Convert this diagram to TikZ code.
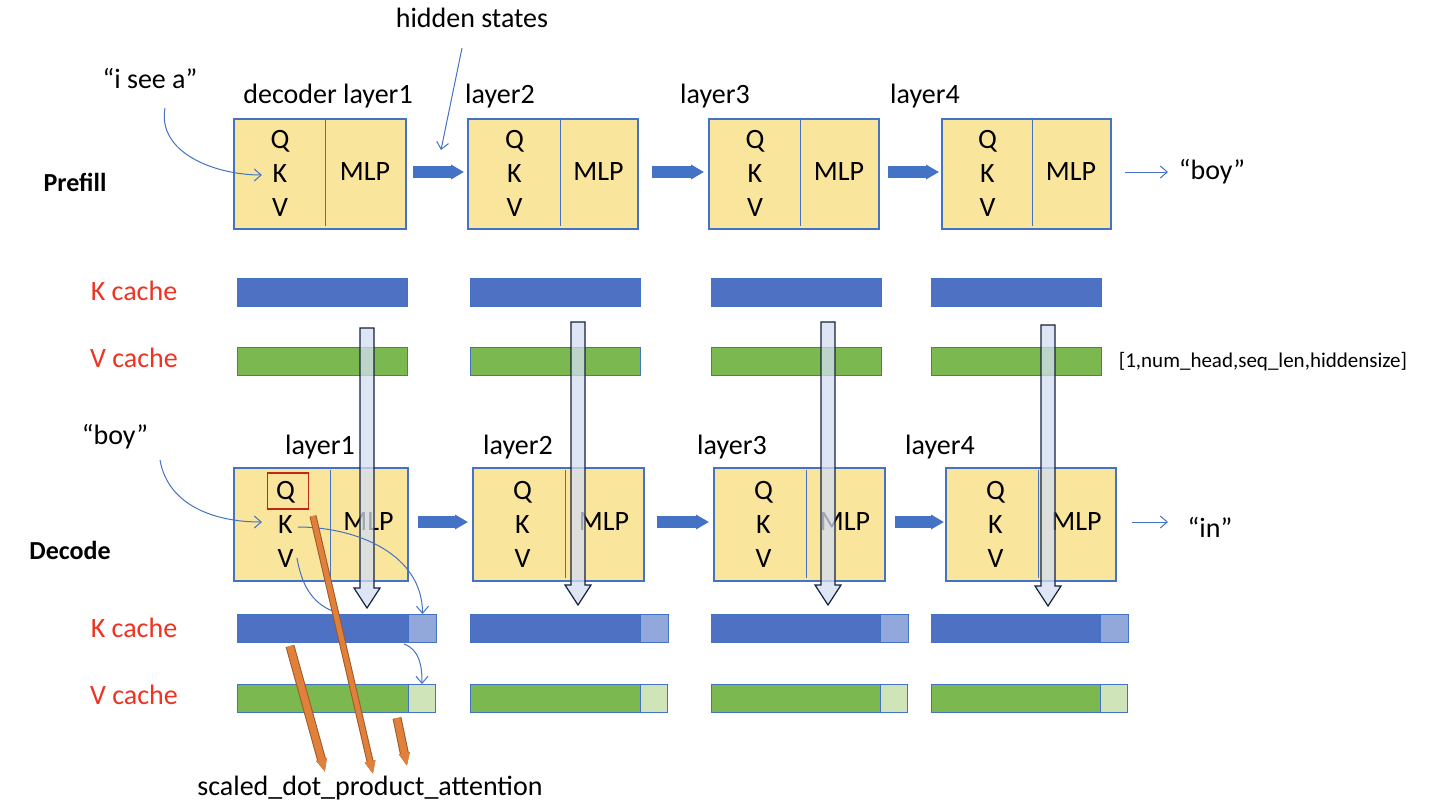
\documentclass[tikz,border=0pt]{standalone}
\usepackage{fontspec}
\setmainfont{Carlito}
\usetikzlibrary{arrows.meta}
\definecolor{boxy}{HTML}{FAE59D}
\definecolor{boxb}{HTML}{4472C4}
\definecolor{kb}{HTML}{4F71C4}
\definecolor{vg}{HTML}{7CB850}
\definecolor{kl}{HTML}{93A8DA}
\definecolor{vl}{HTML}{CFE4B8}
\definecolor{ora}{HTML}{E0803A}
\definecolor{lbl}{HTML}{D3DEF2}
\definecolor{rd}{HTML}{EE3322}
\tikzset{
 lay/.style={draw=boxb,fill=boxy,line width=1.5pt,minimum height=#1,anchor=north west,inner sep=0pt},
 bar/.style={draw=boxb,line width=1pt,anchor=north west,inner sep=0pt},
 txt/.style={font=\fontsize{28}{30}\selectfont},
 qkv/.style={align=center,font=\fontsize{28}{34}\selectfont},
 cl/.style={txt,text=rd},
 thin/.style={draw=boxb,line width=1pt,-{Straight Barb[length=7pt,width=12pt]}},
 blk/.style={draw=boxb,line width=12pt,-{Triangle[length=13pt,width=14pt]}},
 oar/.style={draw=ora,line width=7pt,-{Triangle[length=13pt,width=10pt]}}
}
\newcommand{\vbar}[3]{\filldraw[fill=lbl,fill opacity=0.75,draw=black!70!boxb,line width=1.2pt]
 ({#1-7},-#2) -- ({#1+7},-#2) -- ({#1+7},{-#3+20}) -- ({#1+13},{-#3+20}) -- (#1,-#3) -- ({#1-13},{-#3+20}) -- ({#1-7},{-#3+20}) -- cycle;}
\begin{document}
\begin{tikzpicture}[x=1pt,y=1pt]
\useasboundingbox (0,0) rectangle (1440,-807);
\fill[white] (0,0) rectangle (1440,-807);
% prefill
\node[txt,font=\bfseries\fontsize{26}{28}\selectfont] (pf) at (75,-182) {Prefill};
\node[txt] (isee) at (150,-78) {“i see a”};
\foreach \n/\x/\d/\w in {1/233/92/172,2/467/93/170,3/708/92/170,4/941/91/169}{
 \node[lay=110pt,minimum width=\w pt] (p\n) at (\x,-118) {};
 \draw[boxb,line width=1pt] ({\x+\d},-120) -- ({\x+\d},-226);
 \node[qkv] (pq\n) at ({\x+\d/2+1},-173) {Q\\K\\V};
 \node[txt] (pm\n) at ({\x+\d/2+\w/2},-172) {MLP};
}
\node[txt] (pl1) at (328,-96) {decoder layer1};
\node[txt] (pl2) at (500,-96) {layer2};
\node[txt] (pl3) at (715,-96) {layer3};
\node[txt] (pl4) at (925,-96) {layer4};
\draw[blk] (413,-172) -- (464,-172);
\draw[blk] (652,-172) -- (704,-172);
\draw[blk] (888,-172) -- (939,-172);
\node[txt] (pboy) at (1212,-172) {“boy”};
\draw[thin] (1125,-172) -- (1168,-172);
\draw[thin] (165,-108) to[out=-100,in=180] (262,-175);
\node[txt] (hs) at (472,-18) {hidden states};
\draw[thin] (462,-48) -- (441,-150);
% caches prefill
\node[cl] (kc1) at (134,-291) {K cache};
\node[cl] (vc1) at (134,-358) {V cache};
\foreach \n/\x in {1/237,2/470,3/711,4/931}{
 \node[bar,fill=kb,minimum width=170pt,minimum height=28pt] (pk\n) at (\x,-278) {};
 \node[bar,fill=vg,minimum width=170pt,minimum height=28pt] (pv\n) at (\x,-347) {};
}
\node[font=\fontsize{21}{23}\selectfont] (shape) at (1263,-362) {[1,num\_head,seq\_len,hiddensize]};
% decode
\node[txt,font=\bfseries\fontsize{26}{28}\selectfont] (dc) at (70,-550) {Decode};
\node[txt] (dboy) at (115,-437) {“boy”};
\foreach \n/\x/\d/\w in {1/233/97/174,2/472/93/171,3/713/93/171,4/945/93/170}{
 \node[lay=113pt,minimum width=\w pt] (d\n) at (\x,-467) {};
 \draw[boxb,line width=1pt] ({\x+\d},-470) -- ({\x+\d},-578);
 \node[qkv] (dq\n) at ({\x+\d/2+4},-524) {Q\\K\\V};
 \node[txt] (dm\n) at ({\x+\d/2+\w/2},-522) {MLP};
}
\node[draw=rd!80!black,line width=1.5pt,minimum width=41pt,minimum height=36pt] (qbox) at (288,-491) {};
\node[txt] (dl1) at (320,-447) {layer1};
\node[txt] (dl2) at (518,-447) {layer2};
\node[txt] (dl3) at (732,-447) {layer3};
\node[txt] (dl4) at (940,-447) {layer4};
\draw[blk] (418,-522) -- (468,-522);
\draw[blk] (657,-522) -- (709,-522);
\draw[blk] (895,-522) -- (944,-522);
\node[txt] (din) at (1210,-527) {“in”};
\draw[thin] (1132,-522) -- (1168,-522);
\draw[thin] (160,-460) to[out=-80,in=180] (262,-522);
\node[cl] (kc2) at (134,-628) {K cache};
\node[cl] (vc2) at (134,-695) {V cache};
\foreach \n/\x/\w in {1/237/171,2/470/170,3/711/169,4/931/169}{
 \node[bar,fill=kb,minimum width=\w pt,minimum height=28pt] (dk\n) at (\x,-614) {};
 \node[bar,fill=kl,minimum width=28pt,minimum height=28pt] (dkn\n) at ({\x+\w},-614) {};
 \node[bar,fill=vg,minimum width=\w pt,minimum height=28pt] (dv\n) at (\x,-684) {};
 \node[bar,fill=vl,minimum width=27pt,minimum height=28pt] (dvn\n) at ({\x+\w},-684) {};
}
% vertical hollow arrows
\vbar{367}{328}{608}
\vbar{578}{322}{605}
\vbar{828}{322}{605}
\vbar{1048}{325}{606}
% thin curves
\draw[thin] (298,-527) to[out=0,in=90] (dkn1.north);
\draw[boxb,line width=1pt] (297,-558) to[out=-80,in=160] (335,-612);
\draw[thin] (404,-644) to[out=-20,in=90] (dvn1.north);
% orange arrows
\node[txt] (sdpa) at (370,-788) {scaled\_dot\_product\_attention};
\draw[oar,line width=9pt,draw=ora!70!black] (290,-646) -- (325,-772);
\draw[oar] (290,-646) -- (325,-772);
\draw[oar,line width=7pt,draw=ora!70!black] (313,-516) -- (373,-774);
\draw[oar,line width=5pt] (313,-516) -- (373,-774);
\draw[oar,line width=9pt,draw=ora!70!black] (397,-718) -- (407,-766);
\draw[oar] (397,-718) -- (407,-766);
\end{tikzpicture}
\end{document}
